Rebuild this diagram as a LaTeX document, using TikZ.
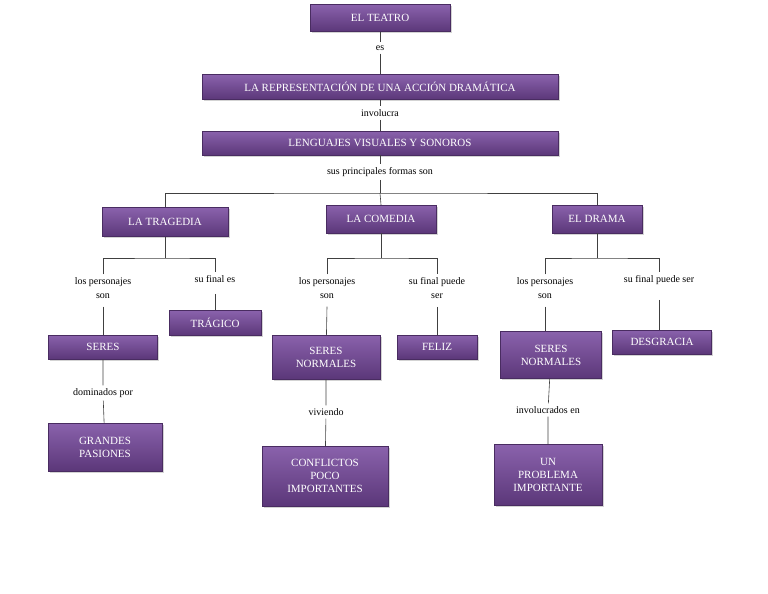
\documentclass[tikz,border=0pt]{standalone}
\usepackage{fontspec}
\setmainfont{Liberation Serif}
\usetikzlibrary{shadows}
\definecolor{boxtop}{HTML}{8A62AC}
\definecolor{boxbot}{HTML}{5B3779}
\tikzset{
  caja/.style={draw=boxbot!80!black,top color=boxtop,bottom color=boxbot,
    text=white,font=\fontsize{11}{13}\selectfont,align=center,
    drop shadow={opacity=0.35,shadow xshift=1.5pt,shadow yshift=-1.5pt},
    inner sep=0pt},
  rotulo/.style={font=\fontsize{10}{14}\selectfont,align=center,inner sep=3pt},
  linea/.style={draw=black!75,line width=0.6pt}
}
\begin{document}
\begin{tikzpicture}[x=1pt,y=-1pt]
  \useasboundingbox (0,0) rectangle (768,594);
  % nivel superior
  \node[caja,minimum width=140,minimum height=27] (teatro) at (380,18) {EL TEATRO};
  \node[rotulo] (es) at (380,48) {es};
  \node[caja,minimum width=356,minimum height=25] (repre) at (380,87) {LA REPRESENTACIÓN DE UNA ACCIÓN DRAMÁTICA};
  \node[rotulo] (involucra) at (380,113) {involucra};
  \node[caja,minimum width=356,minimum height=24] (lenguajes) at (380,143) {LENGUAJES VISUALES Y SONOROS};
  \node[rotulo] (formas) at (380,172) {sus principales formas son};
  \draw[linea] (teatro) -- (es) -- (repre) -- (involucra) -- (lenguajes) -- (formas);
  % las tres formas
  \node[caja,minimum width=126,minimum height=29] (tragedia) at (165,222) {LA TRAGEDIA};
  \node[caja,minimum width=110,minimum height=28] (comedia) at (381,219) {LA COMEDIA};
  \node[caja,minimum width=90,minimum height=28] (drama) at (597,219) {EL DRAMA};
  \coordinate (j0) at (380,193);
  \draw[linea] (formas) -- (j0);
  \draw[linea] (tragedia.north) |- (j0) -| (drama.north);
  \draw[linea] (j0) -- (comedia.north);
  % tragedia
  \node[rotulo] (tpers) at (103,288) {los personajes\\son};
  \node[rotulo] (tfinal) at (215,279) {su final es};
  \node[caja,minimum width=109,minimum height=24] (tseres) at (103,347) {SERES};
  \node[caja,minimum width=92,minimum height=25] (tragico) at (215,323) {TRÁGICO};
  \node[rotulo] (dominados) at (103,393) {dominados por};
  \node[caja,minimum width=114,minimum height=48] (pasiones) at (105,447) {GRANDES\\PASIONES};
  \coordinate (j1) at (165,258);
  \draw[linea] (tragedia) -- (j1);
  \draw[linea] (tpers.north) |- (j1) -| (tfinal.north);
  \draw[linea] ([yshift=-5]tpers.south) -- (tseres);
  \draw[linea] ([yshift=-8]tfinal.south) -- (tragico);
  \draw[linea] (tseres) -- (dominados) -- (pasiones);
  % comedia
  \node[rotulo] (cpers) at (327,288) {los personajes\\son};
  \node[rotulo] (cfinal) at (437,288) {su final puede\\ser};
  \node[caja,minimum width=108,minimum height=44] (cseres) at (326,357) {SERES\\NORMALES};
  \node[caja,minimum width=80,minimum height=24] (feliz) at (437,347) {FELIZ};
  \node[rotulo] (viviendo) at (326,412) {viviendo};
  \node[caja,minimum width=126,minimum height=60] (conflictos) at (325,476) {CONFLICTOS\\POCO\\IMPORTANTES};
  \coordinate (j2) at (381,258);
  \draw[linea] (comedia) -- (j2);
  \draw[linea] (cpers.north) |- (j2) -| (cfinal.north);
  \draw[linea] ([yshift=-5]cpers.south) -- (cseres);
  \draw[linea] ([yshift=-5]cfinal.south) -- (feliz);
  \draw[linea] (cseres) -- (viviendo) -- (conflictos);
  % drama
  \node[rotulo] (dpers) at (545,288) {los personajes\\son};
  \node[rotulo] (dfinal) at (659,280) {su final puede ser};
  \node[caja,minimum width=101,minimum height=47] (dseres) at (551,355) {SERES\\NORMALES};
  \node[caja,minimum width=99,minimum height=24] (desgracia) at (662,342) {DESGRACIA};
  \node[rotulo] (involucrados) at (548,410) {involucrados en};
  \node[caja,minimum width=108,minimum height=61] (problema) at (548,475) {UN\\PROBLEMA\\IMPORTANTE};
  \coordinate (j3) at (597,258);
  \draw[linea] (drama) -- (j3);
  \draw[linea] (dpers.north) |- (j3) -| (dfinal.north);
  \draw[linea] ([yshift=-5]dpers.south) -- (dpers.south |- dseres.north);
  \draw[linea] ([yshift=-12]dfinal.south) -- (dfinal.south |- desgracia.north);
  \draw[linea] (dseres) -- (involucrados) -- (problema);
\end{tikzpicture}
\end{document}
